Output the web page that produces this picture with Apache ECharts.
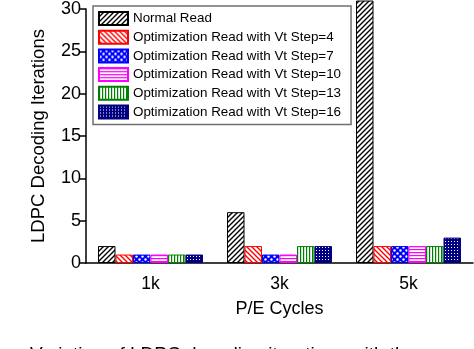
<!DOCTYPE html>
<html>
<head>
<meta charset="utf-8">
<style>
  html, body { margin: 0; padding: 0; background: #fff; }
  #chart { width: 474px; height: 349px; }
</style>
<script src="https://cdn.jsdelivr.net/npm/echarts@6/dist/echarts.min.js"></script>
</head>
<body>
<div id="chart"></div>
<script>
// P/E cycle groups on the x axis
const categories = ['1k', '3k', '5k'];

// LDPC decoding iterations per read scheme
const normalRead = [2, 6, 31];
const step4 = [1, 2, 2];
const step7 = [1, 1, 2];
const step10 = [1, 1, 2];
const step13 = [1, 2, 2];
const step16 = [1, 2, 3];

const seriesNames = [
  'Normal Read',
  'Optimization Read with Vt Step=4',
  'Optimization Read with Vt Step=7',
  'Optimization Read with Vt Step=10',
  'Optimization Read with Vt Step=13',
  'Optimization Read with Vt Step=16'
];

const yTicks = { min: 0, max: 30, interval: 5 };

const FONT = "'Liberation Sans', Arial, sans-serif";

// Small repeating canvas tiles used as bar fill patterns
function tile(w, h, bg, paint) {
  const c = document.createElement('canvas');
  c.width = w; c.height = h;
  const ctx = c.getContext('2d');
  ctx.fillStyle = bg;
  ctx.fillRect(0, 0, w, h);
  paint(ctx, w, h);
  return { image: c, repeat: 'repeat' };
}

function diagonal(color, forward) {
  return tile(5, 5, '#ffffff', (ctx, w, h) => {
    ctx.strokeStyle = color;
    ctx.lineWidth = 1.4;
    ctx.beginPath();
    if (forward) {
      ctx.moveTo(-1, h + 1); ctx.lineTo(w + 1, -1);
      ctx.moveTo(-1, 1); ctx.lineTo(1, -1);
      ctx.moveTo(w - 1, h + 1); ctx.lineTo(w + 1, h - 1);
    } else {
      ctx.moveTo(-1, -1); ctx.lineTo(w + 1, h + 1);
      ctx.moveTo(w - 1, -1); ctx.lineTo(w + 1, 1);
      ctx.moveTo(-1, h - 1); ctx.lineTo(1, h + 1);
    }
    ctx.stroke();
  });
}

const patNormal = diagonal('#000000', true);
const patStep4 = diagonal('#ff0000', false);
const patStep7 = tile(6, 6, '#0000ff', (ctx) => {
  ctx.fillStyle = '#ffffff';
  [[1.5, 1.5], [4.5, 4.5]].forEach(([x, y]) => {
    ctx.beginPath(); ctx.arc(x, y, 1.2, 0, Math.PI * 2); ctx.fill();
  });
});
const patStep10 = tile(3, 3, '#ffffff', (ctx) => {
  ctx.fillStyle = '#ff00ff';
  ctx.fillRect(0, 0, 3, 1.2);
});
const patStep13 = tile(3, 3, '#ffffff', (ctx) => {
  ctx.fillStyle = '#008000';
  ctx.fillRect(0, 0, 1.2, 3);
});
const patStep16 = tile(3, 3, '#000080', (ctx) => {
  ctx.fillStyle = '#ffffff';
  ctx.fillRect(1, 1, 1, 1);
});

const styles = [
  { fill: patNormal, border: '#000000' },
  { fill: patStep4, border: '#ff0000' },
  { fill: patStep7, border: '#0000ff' },
  { fill: patStep10, border: '#ff00ff' },
  { fill: patStep13, border: '#008000' },
  { fill: patStep16, border: '#000080' }
];

const values = [normalRead, step4, step7, step10, step13, step16];

const chart = echarts.init(document.getElementById('chart'), null, { renderer: 'canvas' });

chart.setOption({
  animation: false,
  backgroundColor: '#ffffff',
  textStyle: { fontFamily: FONT },
  grid: { left: 86, right: 1, top: 7, bottom: 86, containLabel: false },
  legend: {
    orient: 'vertical',
    left: 93,
    top: 6,
    itemWidth: 29,
    itemHeight: 13,
    itemGap: 3.7,
    padding: [5, 10, 5, 5],
    borderColor: '#6f6f6f',
    borderWidth: 1.5,
    backgroundColor: '#ffffff',
    icon: 'rect',
    textStyle: { fontFamily: FONT, fontSize: 13.4, lineHeight: 13, color: '#000' },
    data: seriesNames
  },
  xAxis: {
    type: 'category',
    data: categories,
    name: 'P/E Cycles',
    nameLocation: 'middle',
    nameGap: 37,
    nameTextStyle: { fontFamily: FONT, fontSize: 18, color: '#000' },
    axisLine: { lineStyle: { color: '#000', width: 1.5 } },
    axisTick: { alignWithLabel: true, length: 6, lineStyle: { color: '#000', width: 1.5 } },
    axisLabel: { fontFamily: FONT, fontSize: 17.5, color: '#000', margin: 12 }
  },
  yAxis: {
    type: 'value',
    min: yTicks.min,
    max: yTicks.max,
    interval: yTicks.interval,
    name: 'LDPC Decoding Iterations',
    nameLocation: 'middle',
    nameGap: 38,
    nameTextStyle: { fontFamily: FONT, fontSize: 18.5, color: '#000' },
    axisLine: { show: true, lineStyle: { color: '#000', width: 1.5 } },
    axisTick: { show: true, length: 7, lineStyle: { color: '#000', width: 1.5 } },
    axisLabel: { fontFamily: FONT, fontSize: 18, color: '#000', margin: 5 },
    splitLine: { show: false }
  },
  series: seriesNames.map((name, i) => ({
    name,
    type: 'bar',
    data: values[i],
    barWidth: 17.5,
    barGap: '0%',
    clip: false,
    itemStyle: { color: styles[i].fill, borderColor: styles[i].border, borderWidth: 1 }
  })),
  graphic: [{
    type: 'text',
    left: 30,
    top: 345,
    style: {
      text: 'Variation of LDPC decoding iterations with the',
      font: '19px ' + FONT,
      fill: '#000'
    }
  }]
});
</script>
</body>
</html>
